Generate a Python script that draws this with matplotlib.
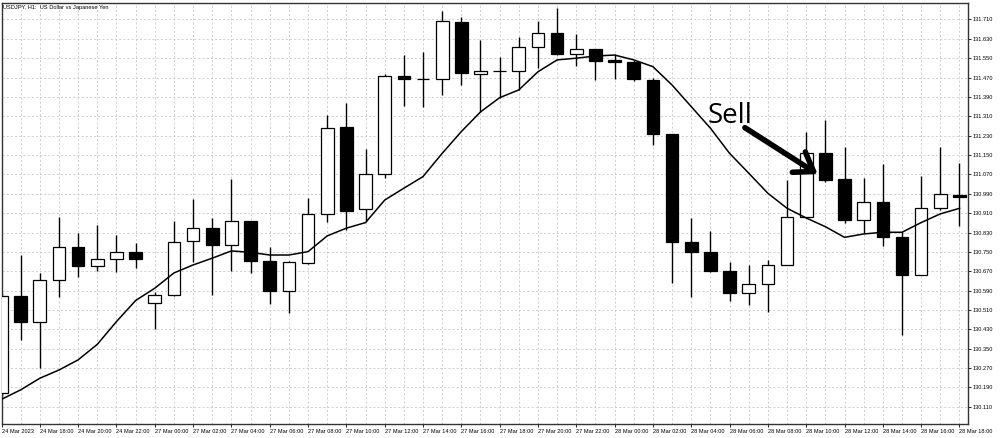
import numpy as np
import matplotlib
matplotlib.use("Agg")
import matplotlib.pyplot as plt
from matplotlib.ticker import FixedLocator, MultipleLocator

# --- Chart data (USDJPY H1) ---
opens = [130.167, 130.569, 130.462, 130.634, 130.769, 130.693, 130.720, 130.748, 130.540, 130.572,
         130.794, 130.848, 130.777, 130.876, 130.714, 130.590, 130.703, 130.907, 131.265, 130.926,
         131.073, 131.475, 131.463, 131.463, 131.701, 131.485, 131.496, 131.496, 131.595, 131.653,
         131.568, 131.588, 131.543, 131.536, 131.460, 131.237, 130.792, 130.751, 130.672, 130.579,
         130.616, 130.696, 130.896, 131.157, 131.050, 130.882, 130.955, 130.810, 130.655, 130.930,
         130.985]
highs = [130.580, 130.737, 130.662, 130.896, 130.829, 130.861, 130.820, 130.786, 130.586, 130.878,
         130.969, 130.889, 131.051, 130.878, 130.772, 130.712, 130.972, 131.316, 131.364, 131.175,
         131.485, 131.563, 131.575, 131.745, 131.722, 131.625, 131.554, 131.639, 131.705, 131.756,
         131.649, 131.590, 131.566, 131.543, 131.468, 131.237, 130.889, 130.836, 130.707, 130.696,
         130.717, 131.047, 131.247, 131.295, 131.185, 131.054, 131.113, 130.834, 131.064, 131.185,
         131.116]
lows = [130.155, 130.386, 130.269, 130.565, 130.648, 130.672, 130.668, 130.685, 130.432, 130.568,
        130.710, 130.572, 130.671, 130.664, 130.535, 130.497, 130.700, 130.875, 130.841, 130.879,
        131.057, 131.353, 131.350, 131.398, 131.439, 131.328, 131.385, 131.419, 131.508, 131.564,
        131.519, 131.460, 131.463, 131.456, 131.192, 130.623, 130.563, 130.666, 130.549, 130.531,
        130.503, 130.694, 130.894, 131.040, 130.871, 130.827, 130.776, 130.407, 130.653, 130.923,
        130.858]
closes = [130.568, 130.462, 130.634, 130.769, 130.692, 130.720, 130.748, 130.722, 130.572, 130.792,
          130.848, 130.777, 130.876, 130.714, 130.590, 130.707, 130.907, 131.263, 130.920, 131.073,
          131.475, 131.463, 131.463, 131.704, 131.488, 131.499, 131.496, 131.595, 131.653, 131.568,
          131.587, 131.540, 131.536, 131.463, 131.237, 130.792, 130.751, 130.672, 130.582, 130.616,
          130.696, 130.893, 131.157, 131.047, 130.882, 130.955, 130.810, 130.655, 130.930, 130.988,
          130.976]
# moving average line drawn by the terminal
ma_values = [130.141, 130.180, 130.228, 130.262, 130.304, 130.368, 130.462, 130.549, 130.600, 130.663,
             130.696, 130.724, 130.754, 130.748, 130.737, 130.737, 130.751, 130.816, 130.848, 130.871,
             130.964, 131.013, 131.061, 131.157, 131.247, 131.328, 131.387, 131.419, 131.494, 131.543,
             131.550, 131.559, 131.563, 131.543, 131.515, 131.439, 131.350, 131.261, 131.157, 131.075,
             130.992, 130.930, 130.890, 130.854, 130.810, 130.824, 130.831, 130.831, 130.871, 130.907,
             130.930]

time_labels = ["24 Mar 2023", "24 Mar 18:00", "24 Mar 20:00", "24 Mar 22:00",
               "27 Mar 00:00", "27 Mar 02:00", "27 Mar 04:00", "27 Mar 06:00",
               "27 Mar 08:00", "27 Mar 10:00", "27 Mar 12:00", "27 Mar 14:00",
               "27 Mar 16:00", "27 Mar 18:00", "27 Mar 20:00", "27 Mar 22:00",
               "28 Mar 00:00", "28 Mar 02:00", "28 Mar 04:00", "28 Mar 06:00",
               "28 Mar 08:00", "28 Mar 10:00", "28 Mar 12:00", "28 Mar 14:00",
               "28 Mar 16:00", "28 Mar 18:00"]
price_ticks = [130.110, 130.190, 130.270, 130.350, 130.430, 130.510, 130.590, 130.670,
               130.750, 130.830, 130.910, 130.990, 131.070, 131.150, 131.230, 131.310,
               131.390, 131.470, 131.550, 131.630, 131.710]

# --- Annotation ---
SELL_TEXT_POS = (36.87, 131.283)
ARROW_START = (38.8, 131.263)
ARROW_TIP = (42.6, 131.071)

# --- Style ---
TICK_FONT = "Liberation Sans"
TICK_SIZE = 4.1
GRID_COLOR = "#c8c8c8"
BODY_WIDTH = 0.66

x = np.arange(len(opens))
o = np.array(opens)
c = np.array(closes)
up = c >= o

fig = plt.figure(figsize=(10, 4.38), dpi=100)
ax = fig.add_axes([0.0015, 14 / 438, 0.967, 421 / 438])

# wicks
ax.vlines(x, lows, highs, color="black", lw=1, zorder=2)
# bodies
bottoms = np.minimum(o, c)
heights = np.abs(c - o)
ax.bar(x[up], heights[up], bottom=bottoms[up], width=BODY_WIDTH,
       color="white", edgecolor="black", lw=0.9, zorder=3)
ax.bar(x[~up], heights[~up], bottom=bottoms[~up], width=BODY_WIDTH,
       color="black", edgecolor="black", lw=0.9, zorder=3)

# moving average
ax.plot(x, ma_values, color="black", lw=1.1, zorder=4)

# sell marker
ax.text(SELL_TEXT_POS[0], SELL_TEXT_POS[1], "Sell", fontsize=20, family="Open Sans",
        ha="left", va="baseline", zorder=5)
ax.annotate("", xy=ARROW_TIP, xytext=ARROW_START,
            arrowprops=dict(arrowstyle="->,head_length=0.9,head_width=0.62",
                            lw=4, color="black", shrinkA=0, shrinkB=0,
                            mutation_scale=14), zorder=5)

# --- Axes ---
ax.set_xlim(0, 50.47)
ax.set_ylim(130.039, 131.778)

ax.xaxis.set_major_locator(FixedLocator(x[::2]))
ax.xaxis.set_minor_locator(MultipleLocator(1))
ax.set_xticklabels(time_labels, ha="left", fontsize=TICK_SIZE, family=TICK_FONT)
ax.tick_params(axis="x", which="major", direction="out", length=2.2, width=0.6, pad=1.2)
ax.tick_params(axis="x", which="minor", length=0)

ax.yaxis.tick_right()
ax.set_yticks(price_ticks)
ax.set_yticklabels([f"{p:.3f}" for p in price_ticks], fontsize=TICK_SIZE, family=TICK_FONT)
ax.tick_params(axis="y", direction="out", length=2.2, width=0.6, pad=0.8)

ax.grid(True, axis="x", which="both", color=GRID_COLOR, ls=(0, (2.5, 2.5)), lw=0.6, zorder=0)
ax.grid(True, axis="y", which="major", color=GRID_COLOR, ls=(0, (2.5, 2.5)), lw=0.6, zorder=0)
ax.set_axisbelow(True)

for s in ax.spines.values():
    s.set_color("#333333")
    s.set_linewidth(1)

fig.text(0.003, 1 - 7 / 438, "USDJPY, H1:  US Dollar vs Japanese Yen",
         fontsize=TICK_SIZE, family=TICK_FONT, va="center", ha="left")

fig.savefig("out.png", dpi=100)
